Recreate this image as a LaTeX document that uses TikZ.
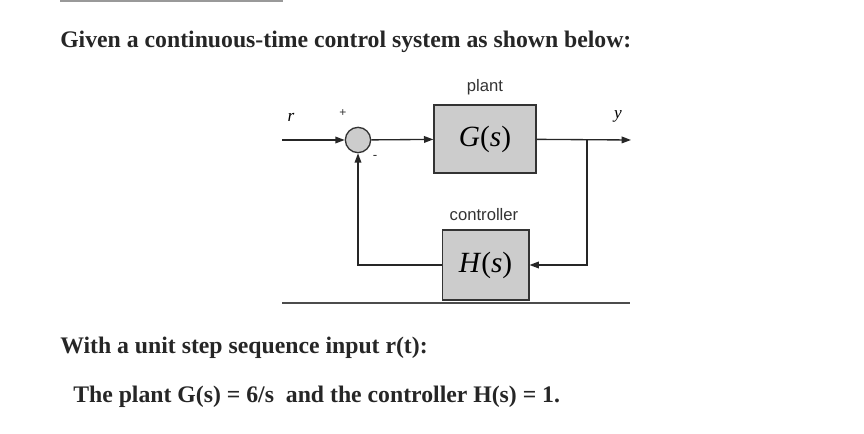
\documentclass[tikz,border=0pt]{standalone}
\usepackage{fontspec}
\setmainfont{Liberation Serif}
\newfontfamily\lsans{Liberation Sans}
\usetikzlibrary{arrows.meta}
\begin{document}
\begin{tikzpicture}[x=0.75pt,y=-0.75pt,
  blk/.style={draw=black!80,fill=black!20,line width=1pt,inner sep=0pt},
  sig/.style={line width=1pt,draw=black!85},
  arr/.style={sig,-{Triangle[length=7pt,width=5pt]}},
  lbl/.style={font=\lsans\fontsize{12.5}{13}\selectfont,text=black!80},
  txt/.style={anchor=west,font=\bfseries\fontsize{17.8}{20}\selectfont,inner sep=0pt,text=black!85}]
\useasboundingbox (0,0) rectangle (864,434);
\draw[line width=1.2pt,black!40] (60,1) -- (283,1);
\node[txt] (t1) at (60,42) {Given a continuous-time control system as shown below:};
\node[txt] (t2) at (60,348) {With a unit step sequence input r(t):};
\node[txt] (t3) at (73,397) {The plant G(s) = 6/s\ \ and the controller H(s) = 1.};
\node[blk,minimum width=76.5pt,minimum height=51pt,font=\fontsize{22}{24}\selectfont] (G) at (485,139) {\textit{G}(\textit{s})};
\node[blk,minimum width=65pt,minimum height=52.5pt,font=\fontsize{22}{24}\selectfont] (H) at (485.5,265) {\textit{H}(\textit{s})};
\node[circle,draw=black!80,fill=black!20,line width=1pt,minimum size=19pt,inner sep=0pt] (S) at (358,140) {};
\node[lbl] (pl) at (485,87) {plant};
\node[lbl] (cl) at (484,215) {controller};
\node[font=\itshape\fontsize{13}{13}\selectfont] (r) at (291,117) {r};
\node[font=\itshape\fontsize{13}{13}\selectfont] (y) at (618,116) {y};
\node[lbl,font=\lsans\fontsize{9}{9}\selectfont] (p) at (343,113) {+};
\node[lbl,font=\lsans\fontsize{10}{10}\selectfont] (m) at (375,157) {-};
\coordinate (in) at (282,140);
\coordinate (out) at (631,140);
\coordinate (br) at (587,140);
\coordinate (fb) at (358,265);
\draw[arr] (in) -- (S);
\draw[arr] (S) -- (G);
\draw[arr] (G) -- (out);
\draw[arr] (br) |- (H);
\draw[arr] (H) -- (fb) -- (S);
\draw[line width=1.5pt,black!70] (282,303) -- (630,303);
\end{tikzpicture}
\end{document}
